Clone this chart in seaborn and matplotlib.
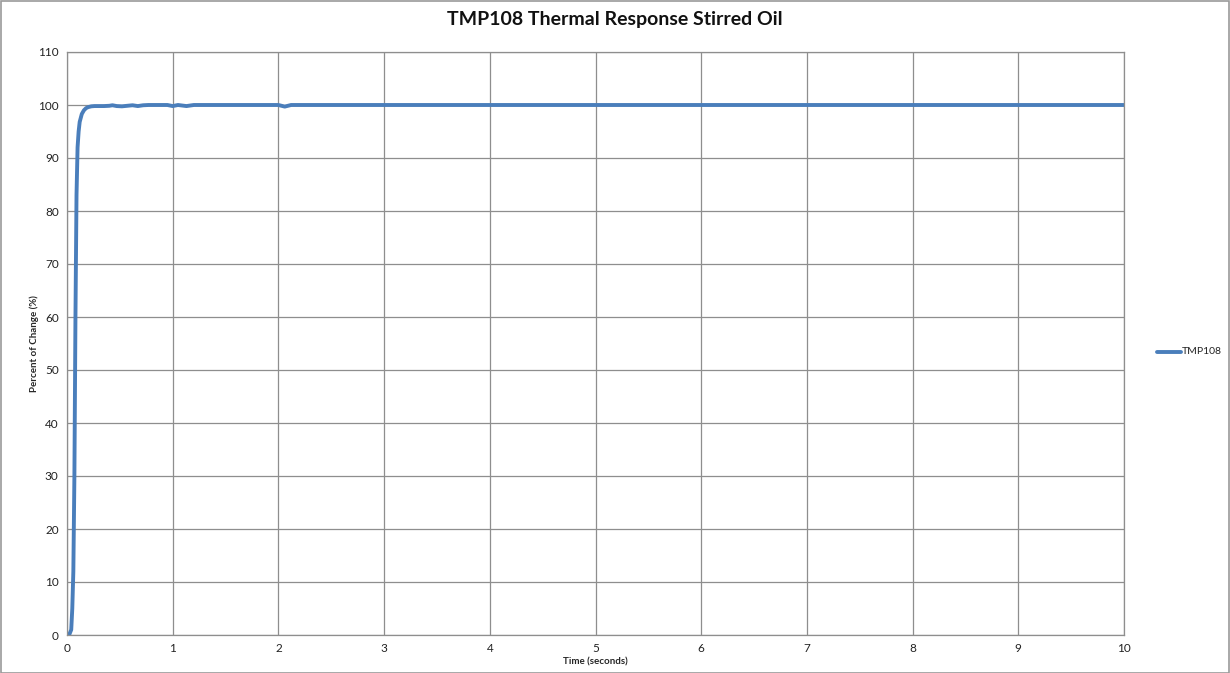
import matplotlib
matplotlib.use("Agg")
import matplotlib.pyplot as plt
import seaborn as sns
import pandas as pd
from matplotlib.patches import Rectangle

title = "TMP108 Thermal Response Stirred Oil"
x_label = "Time (seconds)"
y_label = "Percent of Change (%)"
series_name = "TMP108"

time_s = [0.00, 0.02, 0.04, 0.05, 0.06, 0.07, 0.08, 0.09, 0.10, 0.11, 0.12, 0.14,
          0.16, 0.18, 0.20, 0.23, 0.26, 0.30, 0.35, 0.40, 0.43, 0.47, 0.52, 0.57,
          0.62, 0.67, 0.72, 0.77, 0.85, 0.95, 1.00, 1.05, 1.13, 1.20, 1.40, 1.60,
          1.80, 2.00, 2.06, 2.12, 2.50, 3.00, 4.00, 5.00, 6.00, 7.00, 8.00, 9.00, 10.00]
percent = [0.0, 0.0, 1.0, 5.0, 12.0, 30.0, 60.0, 83.0, 92.0, 95.0, 96.8, 98.3,
           99.0, 99.4, 99.6, 99.75, 99.8, 99.8, 99.8, 99.85, 99.95, 99.8, 99.75, 99.85,
           99.95, 99.8, 99.95, 100.0, 100.0, 100.0, 99.8, 100.0, 99.8, 100.0, 100.0, 100.0,
           100.0, 100.0, 99.7, 100.0, 100.0, 100.0, 100.0, 100.0, 100.0, 100.0, 100.0, 100.0, 100.0]

df = pd.DataFrame({"Time": time_s, "Percent": percent, "Series": series_name})

sns.set_theme(style="white")
plt.rcParams["font.family"] = ["Lato", "DejaVu Sans"]

W, H = 1230, 673
fig = plt.figure(figsize=(W / 100, H / 100), dpi=100)
ax = fig.add_axes([67 / W, 1 - 635 / H, (1124 - 67) / W, (635 - 52) / H])

line_color = "#4a7ebb"
sns.lineplot(data=df, x="Time", y="Percent", hue="Series", palette=[line_color],
             linewidth=2.8, ax=ax, legend=False)

ax.set_xlim(0, 10)
ax.set_ylim(0, 110)
ax.set_xticks(range(0, 11))
ax.set_yticks(range(0, 111, 10))
ax.grid(True, color="#8e8e8e", linewidth=0.9)
ax.set_axisbelow(True)
for s in ax.spines.values():
    s.set_color("#8e8e8e")
    s.set_linewidth(0.9)
ax.tick_params(axis="both", length=0, labelsize=8.5, colors="#222222", pad=6)
ax.set_xlabel(x_label, fontsize=7, fontweight="bold", labelpad=2)
ax.set_ylabel(y_label, fontsize=7, fontweight="bold", labelpad=-1)
fig.text(615 / W, 1 - 20 / H, title, ha="center", va="center",
         fontsize=14, fontweight="bold", color="#111111")

# legend
lx0, lx1, ly = 1157 / W, 1181 / W, 1 - 352 / H
fig.add_artist(plt.Line2D([lx0, lx1], [ly, ly], color=line_color, linewidth=2.8,
                          transform=fig.transFigure))
fig.text(1182 / W, ly, series_name, ha="left", va="center", fontsize=7.5, color="#222222")

# outer border
fig.add_artist(Rectangle((0.5 / W, 0.5 / H), 1 - 1.5 / W, 1 - 1.5 / H, fill=False,
                         edgecolor="#9a9a9a", linewidth=1.2, transform=fig.transFigure))

fig.savefig("out.png", dpi=100)
